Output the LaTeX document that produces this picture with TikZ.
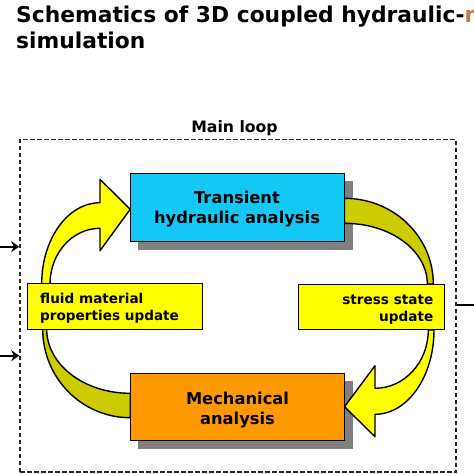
\documentclass[tikz,border=0pt]{standalone}
\usepackage{fontspec}
\setmainfont{DejaVu Sans}
\usetikzlibrary{arrows.meta}
\definecolor{cyanbox}{RGB}{20,200,245}
\definecolor{orangebox}{RGB}{255,153,0}
\definecolor{yel}{RGB}{255,255,0}
\definecolor{olivebd}{RGB}{204,204,0}
\definecolor{shadowgray}{RGB}{128,128,128}
\definecolor{framegray}{RGB}{40,40,40}
\definecolor{titlebrown}{RGB}{190,125,70}
\pgfdeclarelayer{bg}
\pgfsetlayers{bg,main}
\begin{document}
\begin{tikzpicture}[x=1pt,y=-1pt,
  box/.style={draw=black, line width=1pt, inner sep=0pt, minimum width=213.3pt, minimum height=68pt},
  upd/.style={draw=black, fill=yel, line width=1pt, inner sep=0pt, minimum height=45.5pt},
  bigtxt/.style={font=\fontsize{16.3}{20.5}\selectfont\bfseries, align=center, inner sep=0pt},
  smalltxt/.style={font=\fontsize{13.6}{16.7}\selectfont\bfseries, inner sep=0pt},
  arrowshape/.style={draw=black, line width=1.4pt, fill=yel, line join=round},
  bandshape/.style={draw=black, line width=1.4pt, fill=olivebd, line join=round},
  shadowfill/.style={fill=shadowgray},
  inarrow/.style={line width=1.7pt, draw=black, -{Stealth[length=8pt,width=11pt]}},
  framebox/.style={draw=framegray, line width=1.6pt, dash pattern=on 4.5pt off 2.5pt, inner sep=0pt}
]
\useasboundingbox (0,0) rectangle (474,474);

% title
\node[anchor=north west, inner sep=0pt, align=left,
  font=\fontsize{21.8}{26}\selectfont\bfseries] (title) at (16,6) {Schematics of 3D coupled hydraulic-\textcolor{titlebrown}{m}\\simulation};

% frame
\node[framebox, minimum width=436pt, minimum height=332.7pt] (loop) at (238,305.65) {};
\node[anchor=base, inner sep=0pt, font=\fontsize{15.7}{18}\selectfont\bfseries] (looplbl) at (234.5,132.7) {Main loop};

% boxes
\node[box, fill=cyanbox] (trans) at (237.35,207.8) {};
\node[box, fill=orangebox, minimum height=67.4pt] (mech) at (237.35,407) {};
\node[upd, minimum width=175pt] (fluid) at (114.8,306.6) {};
\node[upd, minimum width=146pt] (stress) at (371.7,307) {};

\node[bigtxt] (transtxt) at (237,209.1) {Transient\\hydraulic analysis};
\node[bigtxt] (mechtxt) at (237.5,410.3) {Mechanical\\analysis};
\node[smalltxt, align=left, anchor=west] (fluidtxt) at (40,308.2) {fluid material\\properties update};
\node[smalltxt, align=right, anchor=east] (stresstxt) at (433.5,309.3) {stress state\\update};

% inputs / output
\coordinate (in1) at (-2,246.7);
\coordinate (in2) at (-2,355.7);
\coordinate (out1) at (490,305);
\draw[inarrow] (in1) -- (in1 -| loop.west);
\draw[inarrow] (in2) -- (in2 -| loop.west);
\draw[line width=1.7pt] (loop.east |- out1) -- (out1);

\begin{pgfonlayer}{bg}
  \fill[shadowfill] ([shift={(8,8)}]trans.north west) rectangle ([shift={(8,8)}]trans.south east);
  \fill[shadowfill] ([shift={(8,8)}]mech.north west) rectangle ([shift={(8,8)}]mech.south east);
  % top-left curved arrow (fluid -> trans)
  \draw[arrowshape] (41.7,284) .. controls (41.7,239.1) and (67.8,202.7) .. (100,202.7)
     -- (100,179.3) -- (trans.west |- 0,209.3) -- (100,250.7) -- (100,228.3)
     .. controls (72.4,228.3) and (50,253.2) .. (50,284) -- cycle;
  % top-right band (trans -> stress)
  \draw[bandshape] (trans.east |- 0,198.3) .. controls (393.8,198.3) and (433.3,236.7) .. (433.3,284)
     -- (427.3,284) .. controls (427.3,250.5) and (390.5,223.3) .. (trans.east |- 0,223.3) -- cycle;
  % bottom-right curved arrow (stress -> mech)
  \draw[arrowshape] (434,330) .. controls (434,376.6) and (407.6,414.3) .. (375,414.3)
     -- (375,436.7) -- (mech.east |- 0,406.7) -- (375,365.7) -- (375,388.3)
     .. controls (404.4,388.3) and (428.3,362.2) .. (428.3,330) -- cycle;
  % bottom-left band (mech -> fluid)
  \draw[bandshape] (42.7,329) .. controls (42.7,378) and (81.8,417.7) .. (mech.west |- 0,417.7)
     -- (mech.west |- 0,393.3) .. controls (84,393.3) and (46.7,364.5) .. (46.7,329) -- cycle;
\end{pgfonlayer}
\end{tikzpicture}
\end{document}
